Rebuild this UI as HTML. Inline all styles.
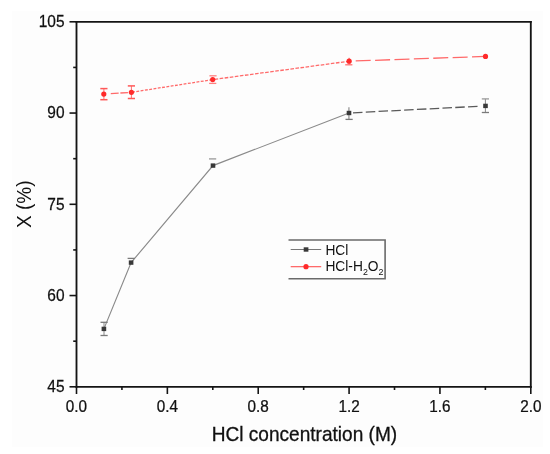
<!DOCTYPE html>
<html><head><meta charset="utf-8"><title>Chart</title>
<style>html,body{margin:0;padding:0;background:#fff;}svg{display:block;}</style>
</head><body>
<svg width="550" height="454" viewBox="0 0 550 454">
<rect x="0" y="0" width="550" height="454" fill="#ffffff"/>
<rect x="12" y="11" width="531" height="436" fill="#fdfdfd"/>
<g stroke="#141414" stroke-width="1.85" fill="none" stroke-linecap="square">
<line x1="76.5" y1="21.8" x2="530.8" y2="21.8"/>
<line x1="530.8" y1="21.8" x2="530.8" y2="386.8"/>
<line x1="76.5" y1="386.8" x2="530.8" y2="386.8"/>
<line x1="76.5" y1="21.8" x2="76.5" y2="386.8"/>
</g>
<g stroke="#141414" stroke-width="1.6" fill="none">
<line x1="76.50" y1="386.8" x2="76.50" y2="394.0"/>
<line x1="121.93" y1="386.8" x2="121.93" y2="390.0"/>
<line x1="167.36" y1="386.8" x2="167.36" y2="394.0"/>
<line x1="212.79" y1="386.8" x2="212.79" y2="390.0"/>
<line x1="258.22" y1="386.8" x2="258.22" y2="394.0"/>
<line x1="303.65" y1="386.8" x2="303.65" y2="390.0"/>
<line x1="349.08" y1="386.8" x2="349.08" y2="394.0"/>
<line x1="394.51" y1="386.8" x2="394.51" y2="390.0"/>
<line x1="439.94" y1="386.8" x2="439.94" y2="394.0"/>
<line x1="485.37" y1="386.8" x2="485.37" y2="390.0"/>
<line x1="530.80" y1="386.8" x2="530.80" y2="394.0"/>
<line x1="76.5" y1="386.80" x2="69.5" y2="386.80"/>
<line x1="76.5" y1="341.18" x2="73.2" y2="341.18"/>
<line x1="76.5" y1="295.55" x2="69.5" y2="295.55"/>
<line x1="76.5" y1="249.93" x2="73.2" y2="249.93"/>
<line x1="76.5" y1="204.30" x2="69.5" y2="204.30"/>
<line x1="76.5" y1="158.68" x2="73.2" y2="158.68"/>
<line x1="76.5" y1="113.05" x2="69.5" y2="113.05"/>
<line x1="76.5" y1="67.43" x2="73.2" y2="67.43"/>
<line x1="76.5" y1="21.80" x2="69.5" y2="21.80"/>
</g>
<g font-family='"Liberation Sans", Arial, sans-serif' font-size="16.3" fill="#111" stroke="#111" stroke-width="0.25">
<text transform="translate(76.50 411.7) scale(0.98 1)" font-size="15.6" text-anchor="middle">0.0</text>
<text transform="translate(167.36 411.7) scale(0.98 1)" font-size="15.6" text-anchor="middle">0.4</text>
<text transform="translate(258.22 411.7) scale(0.98 1)" font-size="15.6" text-anchor="middle">0.8</text>
<text transform="translate(349.08 411.7) scale(0.98 1)" font-size="15.6" text-anchor="middle">1.2</text>
<text transform="translate(439.94 411.7) scale(0.98 1)" font-size="15.6" text-anchor="middle">1.6</text>
<text transform="translate(530.80 411.7) scale(0.98 1)" font-size="15.6" text-anchor="middle">2.0</text>
<text transform="translate(64.5 392.00) scale(0.95 1)" text-anchor="end">45</text>
<text transform="translate(64.5 300.75) scale(0.95 1)" text-anchor="end">60</text>
<text transform="translate(64.5 209.50) scale(0.95 1)" text-anchor="end">75</text>
<text transform="translate(64.5 118.25) scale(0.95 1)" text-anchor="end">90</text>
<text transform="translate(64.5 27.00) scale(0.95 1)" text-anchor="end">105</text>
</g>
<text transform="translate(304.4 440.7) scale(0.94 1)" text-anchor="middle" font-family='"Liberation Sans", Arial, sans-serif' font-size="20.3" fill="#111" stroke="#111" stroke-width="0.3">HCl concentration (M)</text>
<text transform="translate(31.0 204.2) rotate(-90) scale(0.97 1)" text-anchor="middle" font-family='"Liberation Sans", Arial, sans-serif' font-size="19.6" fill="#111">X (%)</text>
<polyline points="103.9,328.9 131.1,262.6 213.0,165.6 349.0,113.0" fill="none" stroke="#8a8a8a" stroke-width="1.15"/>
<line x1="349.0" y1="113.0" x2="480.0" y2="106.2" stroke="#5a5a5a" stroke-width="1.3" stroke-dasharray="9.5 3.3" stroke-dashoffset="-4"/>
<line x1="104.0" y1="322.3" x2="104.0" y2="335.5" stroke="#888" stroke-width="1"/>
<line x1="100.50" y1="322.3" x2="107.70" y2="322.3" stroke="#7a7a7a" stroke-width="1.3"/>
<line x1="100.50" y1="335.5" x2="107.70" y2="335.5" stroke="#7a7a7a" stroke-width="1.3"/>
<line x1="127.60" y1="258.4" x2="134.80" y2="258.4" stroke="#7a7a7a" stroke-width="1.3"/>
<line x1="209.00" y1="158.9" x2="216.20" y2="158.9" stroke="#999" stroke-width="1.3"/>
<line x1="348.9" y1="107.2" x2="348.9" y2="119.4" stroke="#aaa" stroke-width="1.6"/>
<line x1="345.50" y1="119.4" x2="352.70" y2="119.4" stroke="#7a7a7a" stroke-width="1.3"/>
<line x1="485.4" y1="98.9" x2="485.4" y2="112.5" stroke="#888" stroke-width="1"/>
<line x1="481.80" y1="98.9" x2="489.00" y2="98.9" stroke="#999" stroke-width="1.3"/>
<line x1="481.80" y1="112.5" x2="489.00" y2="112.5" stroke="#7a7a7a" stroke-width="1.3"/>
<rect x="101.60" y="326.70" width="4.6" height="4.4" fill="#383838"/>
<rect x="128.80" y="260.40" width="4.6" height="4.4" fill="#383838"/>
<rect x="210.70" y="163.40" width="4.6" height="4.4" fill="#383838"/>
<rect x="346.70" y="110.80" width="4.6" height="4.4" fill="#383838"/>
<rect x="483.20" y="103.70" width="4.6" height="4.4" fill="#383838"/>
<line x1="103.8" y1="94.1" x2="131.4" y2="92.3" stroke="#ff6a6a" stroke-width="1.3" stroke-dasharray="0 7 7.9 1.7 7.6 10" stroke-dashoffset="0"/>
<line x1="131.4" y1="92.3" x2="212.7" y2="79.6" stroke="#ff6a6a" stroke-width="1.3" stroke-dasharray="2.9 1.45" stroke-dashoffset="-0.6"/>
<line x1="212.7" y1="79.6" x2="349.1" y2="61.2" stroke="#ff6a6a" stroke-width="1.3" stroke-dasharray="3.6 1.5" stroke-dashoffset="-1.9"/>
<line x1="349.1" y1="61.2" x2="485.5" y2="56.4" stroke="#ff6a6a" stroke-width="1.3" stroke-dasharray="15 4.4" stroke-dashoffset="-6.6"/>
<line x1="103.9" y1="88.6" x2="103.9" y2="99.7" stroke="#ff7070" stroke-width="1"/>
<line x1="100.30" y1="88.6" x2="107.50" y2="88.6" stroke="#ff5858" stroke-width="1.5"/>
<line x1="100.30" y1="99.7" x2="107.50" y2="99.7" stroke="#ff5858" stroke-width="1.5"/>
<line x1="131.4" y1="85.9" x2="131.4" y2="98.5" stroke="#ff7070" stroke-width="1"/>
<line x1="127.80" y1="85.9" x2="135.00" y2="85.9" stroke="#ff5858" stroke-width="1.5"/>
<line x1="127.80" y1="98.5" x2="135.00" y2="98.5" stroke="#ff5858" stroke-width="1.5"/>
<line x1="209.40" y1="75.8" x2="216.60" y2="75.8" stroke="#ff8080" stroke-width="1.3"/>
<line x1="209.10" y1="83.4" x2="216.30" y2="83.4" stroke="#ff8080" stroke-width="1.3"/>
<line x1="349.1" y1="57.8" x2="349.1" y2="64.8" stroke="#ff6060" stroke-width="1"/>
<line x1="345.20" y1="64.8" x2="352.40" y2="64.8" stroke="#ff7070" stroke-width="1.3"/>
<circle cx="103.8" cy="94.1" r="2.6" fill="#ff2a2a"/>
<circle cx="131.4" cy="92.3" r="2.6" fill="#ff2a2a"/>
<circle cx="212.7" cy="79.6" r="2.6" fill="#ff2a2a"/>
<circle cx="349.1" cy="61.2" r="2.6" fill="#ff2a2a"/>
<circle cx="485.5" cy="56.4" r="2.6" fill="#ff2a2a"/>
<g fill="none" stroke="#6a6a6a" stroke-width="1.6">
<polyline points="288.5,240.05 385.1,240.05 385.1,278.8 288.5,278.8"/>
</g>
<line x1="290.7" y1="249.5" x2="321.2" y2="249.5" stroke="#777" stroke-width="1"/>
<rect x="303.7" y="247.3" width="4.7" height="4.4" fill="#383838"/>
<line x1="290.7" y1="266.7" x2="321.2" y2="266.7" stroke="#ff5050" stroke-width="1.1"/>
<circle cx="306" cy="266.7" r="2.6" fill="#ff2a2a"/>
<g font-family='"Liberation Sans", Arial, sans-serif' font-size="14" fill="#111">
<text transform="translate(325.4 254.6) scale(0.985 1)">HCl</text>
<text transform="translate(325.4 270.8) scale(0.985 1)">HCl-H<tspan font-size="9" dy="4.2">2</tspan><tspan dy="-4.2">O</tspan><tspan font-size="9" dy="4.2">2</tspan></text>
</g>
</svg>
</body></html>
